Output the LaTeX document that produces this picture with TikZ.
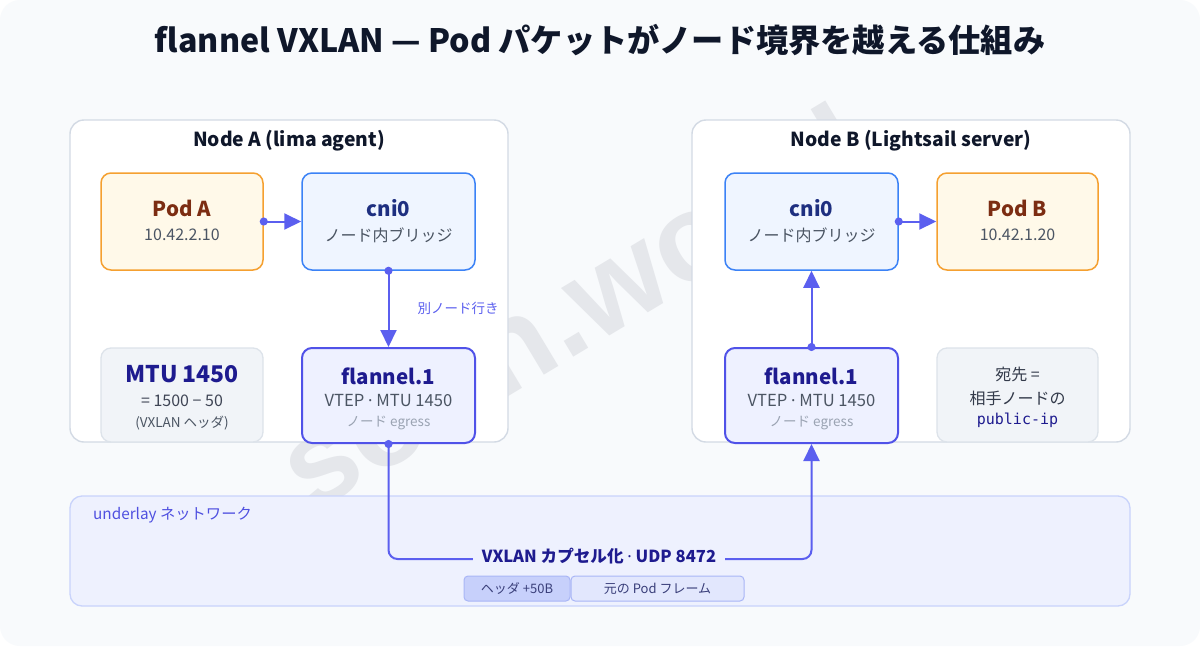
\documentclass[tikz,border=0pt]{standalone}
\usepackage{fontspec}
\setmainfont{Noto Sans CJK JP}
\newfontfamily\monofont{DejaVu Sans Mono}
\newfontfamily\wmfont{Liberation Sans}
\newfontfamily\latinfont{Noto Sans}
\newcommand\mydot{{\latinfont ·}}
\usetikzlibrary{arrows.meta}
\definecolor{bgc}{HTML}{F8FAFC}
\definecolor{wmc}{HTML}{E5E7EB}
\definecolor{contline}{HTML}{D3DAE4}
\definecolor{podfill}{HTML}{FFF9E9}
\definecolor{podline}{HTML}{F5A030}
\definecolor{podtx}{HTML}{7C2D12}
\definecolor{cnifill}{HTML}{EFF5FF}
\definecolor{cniline}{HTML}{3B82F6}
\definecolor{cnitx}{HTML}{1E2F80}
\definecolor{flfill}{HTML}{EEF1FF}
\definecolor{flline}{HTML}{5052E8}
\definecolor{indtx}{HTML}{1E1B8F}
\definecolor{grayfill}{HTML}{F1F4F8}
\definecolor{grayline}{HTML}{DDE3EA}
\definecolor{subtx}{HTML}{4B5563}
\definecolor{faint}{HTML}{9AA3B2}
\definecolor{darktx}{HTML}{0F172A}
\definecolor{conn}{HTML}{5B5FEF}
\definecolor{ulfill}{HTML}{EEF1FE}
\definecolor{ulline}{HTML}{C9D3FB}
\definecolor{ultx}{HTML}{4F50E0}
\definecolor{hdrfill}{HTML}{C7D0FB}
\definecolor{frmfill}{HTML}{E2E7FD}
\definecolor{pktline}{HTML}{A9B6F6}
\definecolor{pkttx}{HTML}{3A3F7A}
\begin{document}
\begin{tikzpicture}[x=1pt,y=-1pt,
  container/.style={draw=contline, fill=white, line width=1.4pt, rounded corners=14pt},
  podbox/.style={draw=podline, fill=podfill, line width=1.5pt, rounded corners=10pt, minimum width=162pt, minimum height=97pt},
  cnibox/.style={draw=cniline, fill=cnifill, line width=1.5pt, rounded corners=10pt, minimum width=173pt, minimum height=97pt},
  flbox/.style={draw=flline, fill=flfill, line width=2pt, rounded corners=10pt, minimum width=173pt, minimum height=95pt},
  graybox/.style={draw=grayline, fill=grayfill, line width=1.3pt, rounded corners=10pt, minimum width=162pt, minimum height=94pt},
  ttl/.style={font=\fontsize{20.5}{24}\selectfont\bfseries, inner sep=0pt},
  sub/.style={font=\fontsize{16}{18}\selectfont, text=subtx, inner sep=0pt},
  small/.style={font=\fontsize{13.5}{16}\selectfont, inner sep=0pt},
  nodettl/.style={font=\fontsize{19.3}{22}\selectfont\bfseries, text=darktx, inner sep=0pt},
  wm/.style={rotate=31, font=\wmfont\fontsize{124}{124}\selectfont\bfseries, text=wmc, inner sep=0pt},
  arr/.style={draw=conn, line width=2pt, {Circle[length=8pt]}-{Triangle[length=17pt,width=16pt]}, shorten <=-4pt},
  pkt/.style={draw=pktline, line width=1pt, rounded corners=4pt, minimum height=25pt, font=\fontsize{13}{15}\selectfont, text=pkttx, inner sep=0pt}
]
\useasboundingbox (0,0) rectangle (1200,646);
\fill[white] (0,0) rectangle (1200,646);
\fill[bgc, rounded corners=20pt] (0,0) rectangle (1200,646);

% watermark
\coordinate (wmp) at (566,362);
\node[wm, anchor=base east] (wm1) at (wmp) {soon};
\node[wm, anchor=base west] (wm2) at (wmp) {.world};

% title
\node[font=\fontsize{32.2}{36}\selectfont\bfseries, text=darktx, inner sep=0pt] (title) at (600,40) {flannel VXLAN — Pod パケットがノード境界を越える仕組み};

% containers
\draw[container] (70,120) rectangle (508,442);
\node[nodettl] (nAt) at (289,141) {Node A (lima agent)};
\draw[container] (692,120) rectangle (1130,442);
\node[nodettl] (nBt) at (911,141) {Node B (Lightsail server)};

% underlay
\draw[draw=ulline, fill=ulfill, line width=1.3pt, rounded corners=12pt] (70,496) rectangle (1130,606);
\node[anchor=west, font=\fontsize{15.3}{17}\selectfont, text=ultx, inner sep=0pt] (ult) at (93,515) {underlay ネットワーク};

% Node A boxes
\node[podbox] (podA) at (182,221.5) {};
\node[ttl, text=podtx] at (182,208) {Pod A};
\node[sub] at (182,235) {10.42.2.10};

\node[cnibox] (cniA) at (388.5,221.5) {};
\node[ttl, text=cnitx] at (388.5,208) {cni0};
\node[sub] at (388.5,235) {ノード内ブリッジ};

\node[graybox] (mtu) at (182,395) {};
\node[ttl, text=indtx, font=\fontsize{23}{26}\selectfont\bfseries] at (182,374) {MTU 1450};
\node[sub, text=darktx!80] at (182,401) {= 1500 − 50};
\node[small, text=subtx] at (182,423) {(VXLAN ヘッダ)};

\node[flbox] (flA) at (388.5,395.5) {};
\node[ttl, text=indtx] at (388.5,376) {flannel.1};
\node[sub, font=\fontsize{16.6}{18}\selectfont] at (388.5,401) {VTEP \mydot{} MTU 1450};
\node[small, text=faint] at (388.5,423) {ノード egress};

% Node B boxes
\node[cnibox] (cniB) at (811.5,221.5) {};
\node[ttl, text=cnitx] at (811.5,208) {cni0};
\node[sub] at (811.5,235) {ノード内ブリッジ};

\node[podbox, minimum width=161pt] (podB) at (1017.5,221.5) {};
\node[ttl, text=podtx] at (1017.5,208) {Pod B};
\node[sub] at (1017.5,235) {10.42.1.20};

\node[flbox] (flB) at (811.5,395.5) {};
\node[ttl, text=indtx] at (811.5,376) {flannel.1};
\node[sub, font=\fontsize{16.6}{18}\selectfont] at (811.5,401) {VTEP \mydot{} MTU 1450};
\node[small, text=faint] at (811.5,423) {ノード egress};

\node[graybox, minimum width=161pt] (dst) at (1017.5,395) {};
\node[sub, text=darktx!85] at (1017.5,374) {宛先 =};
\node[sub, text=darktx!85] at (1017.5,398) {相手ノードの};
\node[font=\fontsize{15}{18}\selectfont\monofont, text=indtx, inner sep=0pt] at (1017.5,420) {public-ip};

% connectors
\draw[arr] (podA.east) -- (cniA.west);
\draw[arr] (cniA.south) -- (flA.north);
\node[font=\fontsize{13.5}{16}\selectfont, text=conn, inner sep=0pt] (lbl) at (458,308) {別ノード行き};
\draw[arr] (flB.north) -- (cniB.south);
\draw[arr] (cniB.east) -- (podB.west);

\coordinate (vxc) at (598,559);
\draw[arr, rounded corners=9pt] (flA.south) |- (vxc) -| (flB.south);
\node[fill=ulfill, inner xsep=9pt, inner ysep=3pt, font=\fontsize{16.6}{19}\selectfont\bfseries, text=indtx] (vx) at (599,556) {VXLAN カプセル化 \mydot{} UDP 8472};

% packet
\node[pkt, fill=hdrfill, minimum width=106pt] (hdr) at (517,588.5) {ヘッダ +50B};
\node[pkt, fill=frmfill, minimum width=173pt, anchor=west] (frm) at (hdr.east) {元の Pod フレーム};
\end{tikzpicture}
\end{document}
